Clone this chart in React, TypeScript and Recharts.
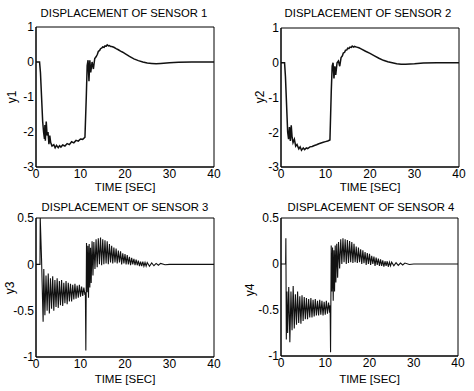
import React from 'react';
import { LineChart, Line, XAxis, YAxis, ReferenceArea } from 'recharts';

// time [s], displacement
const sensor1: [number, number][] = [
  [0, 0], [0.8, 0], [1.0, -0.3], [1.5, -1.7], [1.7, -2.0], [1.9, -2.2], [2.0, -1.8], [2.1, -2.25],
  [2.3, -1.7], [2.5, -2.1], [2.7, -2.0], [2.9, -2.35], [3.1, -2.1], [3.3, -2.3], [3.6, -2.4],
  [4.0, -2.36], [4.3, -2.45], [4.6, -2.38], [5.0, -2.45], [5.3, -2.39], [5.6, -2.43], [6.0, -2.37],
  [6.5, -2.4], [7.0, -2.33], [7.5, -2.36], [8.0, -2.28], [8.5, -2.31], [9.0, -2.24], [9.5, -2.26],
  [10.0, -2.2], [10.5, -2.21], [11.0, -2.15], [11.3, -1.0], [11.5, -0.1], [11.7, 0.05], [11.9, -0.55],
  [12.1, 0.05], [12.3, -0.3], [12.6, 0.0], [12.9, -0.2], [13.2, 0.1], [13.5, 0.15], [13.8, 0.22],
  [14.0, 0.3], [14.3, 0.33], [14.5, 0.38], [14.8, 0.4], [15.0, 0.43], [15.3, 0.42], [15.5, 0.46],
  [15.8, 0.45], [16.0, 0.49], [16.3, 0.46], [16.5, 0.47], [16.8, 0.44], [17.0, 0.44], [17.5, 0.42],
  [18.0, 0.38], [18.5, 0.35], [19.0, 0.31], [19.5, 0.28], [20.0, 0.24], [21.0, 0.16], [22.0, 0.09],
  [23.0, 0.04], [24.0, 0.0], [25.0, -0.03], [26.0, -0.04], [27.0, -0.05], [28.0, -0.04], [30.0, -0.02],
  [32.0, -0.01], [35.0, 0], [40.0, 0],
];

const sensor2: [number, number][] = [
  [0, 0], [0.8, 0], [1.0, -0.4], [1.5, -2.0], [1.7, -2.2], [1.9, -1.85], [2.1, -2.25], [2.3, -1.8],
  [2.5, -2.15], [2.7, -2.3], [3.0, -2.2], [3.3, -2.4], [3.6, -2.35], [4.0, -2.48], [4.3, -2.42],
  [4.6, -2.52], [5.0, -2.45], [5.3, -2.5], [5.7, -2.45], [6.0, -2.47], [6.5, -2.42], [7.0, -2.41],
  [7.5, -2.38], [8.0, -2.36], [8.5, -2.33], [9.0, -2.31], [9.5, -2.29], [10.0, -2.27], [10.5, -2.25],
  [11.0, -2.22], [11.3, -0.8], [11.5, -0.1], [11.7, 0.0], [11.9, -0.45], [12.1, -0.1], [12.3, -0.35],
  [12.6, 0.0], [12.9, 0.05], [13.2, -0.1], [13.5, 0.15], [13.8, 0.2], [14.0, 0.28], [14.3, 0.3],
  [14.5, 0.36], [14.8, 0.37], [15.0, 0.42], [15.3, 0.41], [15.5, 0.45], [15.8, 0.44], [16.0, 0.48],
  [16.3, 0.45], [16.5, 0.47], [17.0, 0.45], [17.5, 0.43], [18.0, 0.4], [19.0, 0.33], [20.0, 0.27],
  [21.0, 0.2], [22.0, 0.13], [23.0, 0.07], [24.0, 0.03], [25.0, 0.0], [26.0, -0.03], [27.0, -0.04],
  [28.0, -0.04], [30.0, -0.03], [32.0, -0.01], [35.0, 0], [40.0, 0],
];

const sensor3: [number, number][] = [
  [0, 0], [0.9, 0], [0.95, 0.5], [1.25, 0.05], [1.45, -0.35], [1.6, -0.62],
  [1.75, -0.05], [2.0, -0.55], [2.25, -0.12], [2.5, -0.5], [2.75, -0.1], [3.0, -0.53], [3.25, -0.15],
  [3.5, -0.48], [3.75, -0.13], [4.0, -0.5], [4.25, -0.17], [4.5, -0.46], [4.75, -0.15], [5.0, -0.47],
  [5.25, -0.18], [5.5, -0.44], [5.75, -0.17], [6.0, -0.45], [6.25, -0.2], [6.5, -0.42], [6.75, -0.18],
  [7.0, -0.43], [7.25, -0.2], [7.5, -0.4], [7.75, -0.21], [8.0, -0.4], [8.25, -0.22], [8.5, -0.38],
  [8.75, -0.21], [9.0, -0.37], [9.25, -0.23], [9.5, -0.36], [9.75, -0.22], [10.0, -0.35], [10.25, -0.24],
  [10.5, -0.34], [10.75, -0.25], [11.0, -0.33], [11.1, -0.3], [11.2, -0.93], [11.35, 0.23], [11.5, -0.3],
  [11.65, 0.2], [11.8, -0.36], [11.95, 0.22], [12.1, -0.25], [12.25, 0.18], [12.4, -0.2], [12.6, 0.25],
  [12.8, -0.12], [13.0, 0.24], [13.25, -0.05], [13.5, 0.27], [13.75, -0.03], [14.0, 0.28], [14.25, 0.0],
  [14.5, 0.29], [14.75, -0.01], [15.0, 0.27], [15.25, 0.0], [15.5, 0.26], [15.75, 0.01], [16.0, 0.25],
  [16.25, 0.0], [16.5, 0.22], [16.75, 0.02], [17.0, 0.2], [17.25, 0.01], [17.5, 0.18], [17.75, 0.02],
  [18.0, 0.17], [18.25, 0.01], [18.5, 0.15], [18.75, 0.02], [19.0, 0.14], [19.25, 0.0], [19.5, 0.12],
  [19.75, 0.01], [20.0, 0.11], [20.25, 0.0], [20.5, 0.1], [20.75, 0.0], [21.0, 0.08], [21.25, -0.01],
  [21.5, 0.07], [21.75, 0.0], [22.0, 0.06], [22.25, -0.01], [22.5, 0.05], [22.75, -0.01], [23.0, 0.04],
  [23.25, -0.02], [23.5, 0.03], [23.75, -0.02], [24.0, 0.03], [24.25, -0.02], [24.5, 0.02], [24.75, -0.02],
  [25.0, 0.02], [25.5, -0.02], [26.0, 0.015], [26.5, -0.015], [27.0, 0.01], [27.5, -0.01], [28.0, 0.01],
  [29.0, -0.005], [30.0, 0], [40.0, 0],
];

const sensor4: [number, number][] = [
  [0, 0], [1.05, 0], [1.1, 0.28], [1.2, -0.82], [1.35, -0.3], [1.5, -0.75],
  [1.75, -0.25], [2.0, -0.85], [2.25, -0.3], [2.5, -0.72], [2.75, -0.24], [3.0, -0.7], [3.25, -0.33],
  [3.5, -0.66], [3.75, -0.3], [4.0, -0.64], [4.25, -0.35], [4.5, -0.65], [4.75, -0.34], [5.0, -0.62],
  [5.25, -0.36], [5.5, -0.6], [5.75, -0.37], [6.0, -0.6], [6.25, -0.38], [6.5, -0.58], [6.75, -0.37],
  [7.0, -0.58], [7.25, -0.39], [7.5, -0.57], [7.75, -0.38], [8.0, -0.56], [8.25, -0.4], [8.5, -0.56],
  [8.75, -0.39], [9.0, -0.55], [9.25, -0.4], [9.5, -0.56], [9.75, -0.41], [10.0, -0.55], [10.25, -0.4],
  [10.5, -0.54], [10.75, -0.42], [11.0, -0.53], [11.1, -0.45], [11.2, -0.96], [11.35, 0.2], [11.5, -0.3],
  [11.65, 0.18], [11.8, -0.4], [11.95, 0.15], [12.1, -0.3], [12.25, 0.2], [12.4, -0.2], [12.6, 0.22],
  [12.8, -0.15], [13.0, 0.24], [13.25, -0.05], [13.5, 0.27], [13.75, 0.0], [14.0, 0.28], [14.25, 0.02],
  [14.5, 0.27], [14.75, 0.0], [15.0, 0.26], [15.25, 0.01], [15.5, 0.25], [15.75, 0.02], [16.0, 0.24],
  [16.25, 0.01], [16.5, 0.22], [16.75, 0.02], [17.0, 0.19], [17.25, 0.01], [17.5, 0.18], [17.75, 0.02],
  [18.0, 0.16], [18.25, 0.0], [18.5, 0.15], [18.75, 0.01], [19.0, 0.13], [19.25, -0.01], [19.5, 0.12],
  [19.75, 0.0], [20.0, 0.11], [20.25, -0.01], [20.5, 0.09], [20.75, 0.0], [21.0, 0.08], [21.25, -0.02],
  [21.5, 0.07], [21.75, -0.01], [22.0, 0.06], [22.25, -0.02], [22.5, 0.05], [22.75, -0.02], [23.0, 0.04],
  [23.25, -0.03], [23.5, 0.03], [23.75, -0.02], [24.0, 0.03], [24.25, -0.03], [24.5, 0.02], [24.75, -0.02],
  [25.0, 0.02], [25.5, -0.02], [26.0, 0.015], [26.5, -0.015], [27.0, 0.01], [27.5, -0.01], [28.0, 0.01],
  [29.0, -0.005], [30.0, 0], [40.0, 0],
];

const timeTicks = [0, 10, 20, 30, 40];
const upperTicks = [-3, -2, -1, 0, 1];
const lowerTicks = [-1, -0.5, 0, 0.5];
const titles = [
  'DISPLACEMENT OF SENSOR 1',
  'DISPLACEMENT OF SENSOR 2',
  'DISPLACEMENT OF SENSOR 3',
  'DISPLACEMENT OF SENSOR 4',
];
const yLabels = ['y1', 'y2', 'y3', 'y4'];

const FONT = '"Liberation Sans", Arial, sans-serif';

type PanelProps = {
  points: [number, number][];
  left: number;
  top: number;
  width: number;
  height: number;
  yWidth: number;
  xHeight: number;
  margin: { top: number; right: number; bottom: number; left: number };
  yTicks: number[];
  labelOffset: number;
  strokeWidth: number;
};

const Panel = ({ points, left, top, width, height, yWidth, xHeight, margin, yTicks, labelOffset, strokeWidth }: PanelProps) => {
  const data = points.map(([t, y]) => ({ t, y }));
  const yMin = yTicks[0];
  const yMax = yTicks[yTicks.length - 1];
  return (
    <div style={{ position: 'absolute', left, top }}>
      <LineChart width={width} height={height} data={data} margin={margin}>
        <XAxis
          dataKey="t"
          type="number"
          domain={[0, 40]}
          ticks={timeTicks}
          height={xHeight}
          tickLine={false}
          tickSize={0}
          tickMargin={2}
          axisLine={{ stroke: '#000' }}
          tick={{ fill: '#000', fontSize: 12, fontFamily: FONT }}
          label={{ value: 'TIME [SEC]', position: 'insideBottom', offset: labelOffset, fill: '#000', fontSize: 11.5, fontFamily: FONT }}
        />
        <YAxis
          type="number"
          domain={[yMin, yMax]}
          ticks={yTicks}
          width={yWidth}
          allowDataOverflow
          tickLine={false}
          tickSize={0}
          tickMargin={2}
          axisLine={{ stroke: '#000' }}
          tick={{ fill: '#000', fontSize: 12, fontFamily: FONT }}
        />
        <ReferenceArea x1={0} x2={40} y1={yMin} y2={yMax} fill="none" stroke="#000" strokeWidth={1} />
        <Line
          type="linear"
          dataKey="y"
          stroke="#111"
          strokeWidth={strokeWidth}
          dot={false}
          isAnimationActive={false}
        />
      </LineChart>
    </div>
  );
};

const textStyle: React.CSSProperties = {
  position: 'absolute',
  fontFamily: FONT,
  color: '#000',
  whiteSpace: 'nowrap',
  lineHeight: 1,
};

const Title = ({ text, x, y }: { text: string; x: number; y: number }) => (
  <div style={{ ...textStyle, left: x, top: y, fontSize: 11.3, transform: 'translate(-50%, -50%)' }}>{text}</div>
);

const YLabel = ({ text, x, y }: { text: string; x: number; y: number }) => (
  <div style={{ ...textStyle, left: x, top: y, fontSize: 12, transform: 'translate(-50%, -50%) rotate(-90deg)' }}>{text}</div>
);

export default function App() {
  return (
    <div style={{ position: 'absolute', left: 0, top: 0, width: 474, height: 391, background: '#fff', overflow: 'hidden' }}>
      <Panel points={sensor1} left={0} top={0} width={237} height={195} yWidth={36} xHeight={28}
        margin={{ top: 27, right: 23, bottom: 0, left: 0 }} yTicks={upperTicks} labelOffset={4} strokeWidth={1.5} />
      <Panel points={sensor2} left={237} top={0} width={237} height={195} yWidth={44} xHeight={28}
        margin={{ top: 28, right: 15, bottom: 0, left: 0 }} yTicks={upperTicks} labelOffset={4} strokeWidth={1.5} />
      <Panel points={sensor3} left={0} top={195} width={237} height={196} yWidth={36} xHeight={34}
        margin={{ top: 23, right: 23, bottom: 0, left: 0 }} yTicks={lowerTicks} labelOffset={8} strokeWidth={1.1} />
      <Panel points={sensor4} left={237} top={195} width={237} height={196} yWidth={44} xHeight={35}
        margin={{ top: 23, right: 16, bottom: 0, left: 0 }} yTicks={lowerTicks} labelOffset={8} strokeWidth={1.1} />

      <Title text={titles[0]} x={124} y={14} />
      <Title text={titles[1]} x={368} y={14} />
      <Title text={titles[2]} x={125} y={208} />
      <Title text={titles[3]} x={371} y={208} />

      <YLabel text={yLabels[0]} x={12} y={97} />
      <YLabel text={yLabels[1]} x={260} y={97} />
      <YLabel text={yLabels[2]} x={10} y={288} />
      <YLabel text={yLabels[3]} x={250} y={290} />
    </div>
  );
}
